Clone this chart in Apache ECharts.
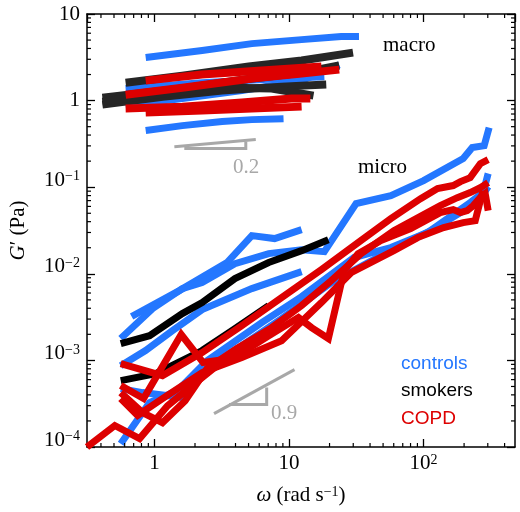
<!DOCTYPE html>
<html><head><meta charset="utf-8">
<script src="https://cdn.jsdelivr.net/npm/echarts@6/dist/echarts.min.js"></script>
<style>html,body{margin:0;padding:0;background:#fff}#c{width:520px;height:512px}</style>
</head><body><div id="c"></div>
<script>
// ---- data: [omega (rad/s), G' (Pa)] ----
const macroBlue1 = [[0.86,3.14],[2.26,3.78],[5.29,4.55],[12.4,5.06],[24.4,5.48],[33.1,5.5]];
const macroBlue2 = [[0.86,0.451],[1.61,0.514],[3.18,0.572],[5.29,0.603],[9.1,0.619]];
const macroBlue3 = [[0.61,1.38],[2.26,1.61],[8.8,1.80],[18.3,1.89]];
const macroBlue4 = [[0.61,0.876],[1.61,1.06],[4.46,1.31],[12.4,1.70],[23.6,2.6]];
const macroBlack1 = [[0.61,1.61],[1.61,1.94],[5.02,2.47],[12.4,2.90],[29.9,3.58]];
const macroBlack2 = [[0.41,1.08],[1.61,1.38],[5.29,1.80],[12.4,2.10],[23.6,2.54]];
const macroBlack3 = [[0.41,0.899],[1.15,1.11],[3.18,1.31],[8.8,1.45],[18.9,1.53]];
const macroBlack4 = [[0.41,0.974],[1.15,1.21],[3.76,1.41],[7.43,1.38],[15.2,1.14]];
const macroRed1 = [[0.86,1.70],[2.26,2.0],[6.27,2.22],[17.4,2.47]];
const macroRed2 = [[0.61,1.17],[1.61,1.41],[5.29,1.80],[12.4,2.05],[23.6,2.28]];
const macroRed3 = [[0.61,0.809],[1.61,0.852],[4.46,0.948],[10.4,1.055],[14.4,1.055]];
const macroRed4 = [[0.86,0.727],[2.26,0.767],[5.29,0.809],[12.4,0.852]];

const microBlue1 = [[0.676,0.00321],[1.53,0.0064],[3.46,0.0135],[5.29,0.0276],[7.81,0.0255],[12.4,0.0324]];
const microBlue2 = [[0.561,0.00179],[0.966,0.00396],[1.61,0.00675],[2.26,0.00791],[3.96,0.0131],[7.06,0.0171],[12.4,0.019],[18.3,0.018],[31.5,0.0647],[57.1,0.080],[100,0.119],[197,0.214],[230,0.287],[282,0.302],[307,0.488]];
const microBlue3 = [[0.561,0.00087],[0.858,0.0013],[1.36,0.00221],[2.26,0.00386],[5.29,0.00675],[12.4,0.0106]];
const microBlue4 = [[0.561,0.000109],[0.919,0.000326],[1.48,0.000448],[2.46,0.000995],[6.27,0.00273],[12.4,0.00545],[30.4,0.0154],[57.1,0.0201],[107,0.0299],[222,0.0664],[277,0.0866],[302,0.144]];
const microBlue5 = [[0.561,0.000472],[0.815,0.000425],[1.61,0.000372],[2.55,0.00087],[4.46,0.00148],[8.8,0.00304],[20.6,0.00791],[48.2,0.0162],[113,0.0315],[188,0.0509],[264,0.0738],[302,0.1016]];
const microBlack1 = [[0.561,0.00156],[0.919,0.00193],[1.61,0.00347],[2.26,0.00465],[3.96,0.00881],[7.06,0.0135],[12.4,0.0185],[19.6,0.0248]];
const microBlack2 = [[0.561,0.000584],[1.02,0.000704],[2.26,0.0013],[3.96,0.00233],[7.06,0.0043]];
const microRed1 = [[0.315,0.0001],[0.507,0.000177],[0.775,0.000125],[1.25,0.0003],[1.91,0.000512],[2.92,0.00087],[4.46,0.00123],[7.06,0.00193],[11.75,0.00312],[14.7,0.00239],[19.6,0.00179],[25.7,0.0109],[32.6,0.0171],[48.2,0.0242],[80.2,0.0333],[133,0.0509],[166,0.0551],[188,0.0509],[211,0.0537],[234,0.0613],[264,0.0758],[287,0.0843],[302,0.0537]];
const microRed2 = [[0.561,0.000512],[0.83,0.000362],[1.58,0.00199],[2.30,0.000944],[3.76,0.00105],[5.75,0.00169],[7.43,0.00209]];
const microRed3 = [[0.561,0.000918],[1.146,0.000667],[2.26,0.00123],[4.46,0.00252],[8.8,0.00531],[17.4,0.0112],[32.6,0.0229],[57.1,0.0434],[95,0.0738],[127,0.0964],[166,0.1045],[188,0.116],[222,0.129],[264,0.187],[302,0.208]];
const microRed4 = [[0.561,0.000425],[0.815,0.000249],[1.146,0.000191],[1.69,0.000343],[2.46,0.000804],[4.10,0.00137],[7.43,0.00239],[12.4,0.0043],[20.6,0.00834],[34.3,0.0171],[60.1,0.0315],[133,0.0613],[178,0.0758],[222,0.0866],[264,0.0989],[302,0.113]];
const microRed5 = [[0.561,0.000362],[0.749,0.000231],[1.146,0.000362],[2.26,0.000723],[4.46,0.00108],[8.8,0.00169],[17.4,0.00465],[28.9,0.0103],[60.1,0.0185],[90.3,0.0262],[141,0.0342],[197,0.039],[242,0.0411],[264,0.070],[277,0.0914]];

// slope guides
const slope02Hyp = [[1.405,0.294],[5.66,0.355]];
const slope02Legs = [[1.665,0.279],[4.77,0.279],[4.77,0.336]];
const slope09Hyp = [[2.77,0.000243],[10.98,0.000783]];
const slope09Legs = [[3.58,0.000309],[6.82,0.000309],[6.82,0.000485]];

// ticks
const xMinorTicks = [0.4,0.5,0.6,0.7,0.8,0.9,2,3,4,5,6,7,8,9,20,30,40,50,60,70,80,90,200,300,400];
const yMinorTicks = [0.0002,0.0003,0.0004,0.0005,0.0006,0.0007,0.0008,0.0009,
  0.002,0.003,0.004,0.005,0.006,0.007,0.008,0.009,
  0.02,0.03,0.04,0.05,0.06,0.07,0.08,0.09,
  0.2,0.3,0.4,0.5,0.6,0.7,0.8,0.9,
  2,3,4,5,6,7,8,9];
const xRange = [0.315, 478];
const yRange = [0.0001, 10];

const SERIF = '"Liberation Serif","Times New Roman",serif';
const SANS = '"Liberation Sans",Arial,sans-serif';
const BLUE = '#2477ff', DARK = '#262626', BLACK = '#000000', RED = '#dd0000', GRAY = '#a8a8a8';

function isPow10(v){ const l = Math.log10(v); return Math.abs(l - Math.round(l)) < 1e-6; }
function expLabel(v){
  if (!isPow10(v)) return '';
  const e = Math.round(Math.log10(v));
  if (e === 0) return '{b|1}';
  if (e === 1) return '{b|10}';
  return '{e|10}{s|' + (e < 0 ? '\u2212' + (-e) : e) + '}';
}

function ln(data, color, width, z){
  return {type:'line', data, symbol:'none', showSymbol:false, silent:true, z,
    lineStyle:{color, width, cap:'butt', join:'miter'}, itemStyle:{color}, emphasis:{disabled:true}};
}

function tickSeries(vals, isX){
  return {type:'custom', coordinateSystem:'cartesian2d', silent:true, clip:false, z:20,
    data: vals.map(v => isX ? [v, 1] : [1, v]),
    renderItem: function(params, api){
      const p = api.coord([api.value(0), api.value(1)]);
      const cs = params.coordSys;
      const st = {stroke:'#000', lineWidth:1.2};
      const L = 4;
      if (isX) {
        return {type:'group', children:[
          {type:'line', shape:{x1:p[0], y1:cs.y+cs.height, x2:p[0], y2:cs.y+cs.height-L}, style:st},
          {type:'line', shape:{x1:p[0], y1:cs.y, x2:p[0], y2:cs.y+L}, style:st}
        ]};
      }
      return {type:'group', children:[
        {type:'line', shape:{x1:cs.x, y1:p[1], x2:cs.x+L, y2:p[1]}, style:st},
        {type:'line', shape:{x1:cs.x+cs.width, y1:p[1], x2:cs.x+cs.width-L, y2:p[1]}, style:st}
      ]};
    }};
}

const axisLineStyle = {show:true, lineStyle:{color:'#000', width:1.5}};
const majorTick = {show:true, inside:true, length:8, lineStyle:{color:'#000', width:1.3}};

const chart = echarts.init(document.getElementById('c'), null, {renderer:'canvas'});
chart.setOption({
  animation:false,
  backgroundColor:'#fff',
  grid:{left:84, right:5, top:14, bottom:65, containLabel:false},
  xAxis:[
    {type:'log', logBase:10, min:xRange[0], max:xRange[1], position:'bottom',
     axisLine:axisLineStyle, axisTick:majorTick, splitLine:{show:false}, minorTick:{show:false},
     axisLabel:{show:true, margin:6, showMinLabel:false, showMaxLabel:false, formatter:expLabel,
       rich:{b:{fontFamily:SERIF, fontSize:21, color:'#000', verticalAlign:'top'},
             e:{fontFamily:SERIF, fontSize:21, color:'#000', verticalAlign:'top'},
             s:{fontFamily:SERIF, fontSize:14, color:'#000', verticalAlign:'top'}}},
     name:'{i|\u03c9} (rad s{s|\u22121})', nameLocation:'middle', nameGap:38,
     nameTextStyle:{fontFamily:SERIF, fontSize:21, color:'#000',
       rich:{i:{fontFamily:SERIF, fontSize:21, fontStyle:'italic', color:'#000', verticalAlign:'top'},
             s:{fontFamily:SERIF, fontSize:14, color:'#000', verticalAlign:'top'}}}},
    {type:'log', logBase:10, min:xRange[0], max:xRange[1], position:'top',
     axisLine:axisLineStyle, axisTick:majorTick, axisLabel:{show:false}, splitLine:{show:false}}
  ],
  yAxis:[
    {type:'log', logBase:10, min:yRange[0], max:yRange[1], position:'left',
     axisLine:axisLineStyle, axisTick:majorTick, splitLine:{show:false}, minorTick:{show:false},
     axisLabel:{show:true, margin:7, formatter:expLabel,
       rich:{b:{fontFamily:SERIF, fontSize:21, color:'#000'},
             e:{fontFamily:SERIF, fontSize:21, color:'#000', verticalAlign:'top', padding:[0,0,14,0]},
             s:{fontFamily:SERIF, fontSize:14, color:'#000', verticalAlign:'top'}}},
     name:'{i|G}\u2032 (Pa)', nameLocation:'middle', nameGap:58, nameRotate:90,
     nameTextStyle:{fontFamily:SERIF, fontSize:21, color:'#000',
       rich:{i:{fontFamily:SERIF, fontSize:21, fontStyle:'italic', color:'#000'}}}},
    {type:'log', logBase:10, min:yRange[0], max:yRange[1], position:'right',
     axisLine:axisLineStyle, axisTick:majorTick, axisLabel:{show:false}, splitLine:{show:false}}
  ],
  series:[
    ln(macroBlue1, BLUE, 7, 2), ln(macroBlue2, BLUE, 7, 2), ln(macroBlue3, BLUE, 7, 2), ln(macroBlue4, BLUE, 7, 2),
    ln(macroBlack1, DARK, 8, 3), ln(macroBlack2, DARK, 8, 3), ln(macroBlack3, DARK, 8, 3), ln(macroBlack4, DARK, 8, 3),
    ln(macroRed1, RED, 8, 4), ln(macroRed2, RED, 8, 4), ln(macroRed3, RED, 8, 4), ln(macroRed4, RED, 8, 4),
    ln(microBlue1, BLUE, 7, 2), ln(microBlue2, BLUE, 7, 2), ln(microBlue3, BLUE, 7, 2), ln(microBlue4, BLUE, 7, 2), ln(microBlue5, BLUE, 7, 2),
    ln(microBlack1, BLACK, 7, 3), ln(microBlack2, BLACK, 7, 3),
    ln(microRed1, RED, 7, 4), ln(microRed2, RED, 7, 4), ln(microRed3, RED, 7, 4), ln(microRed4, RED, 7, 4), ln(microRed5, RED, 7, 4),
    ln(slope02Hyp, GRAY, 3, 5), ln(slope02Legs, GRAY, 3, 5),
    ln(slope09Hyp, GRAY, 3, 5), ln(slope09Legs, GRAY, 3, 5),
    tickSeries(xMinorTicks, true), tickSeries(yMinorTicks, false)
  ],
  graphic:[
    {type:'text', x:383, y:45, style:{text:'macro', font:'21px ' + SERIF, fill:'#000', align:'left', verticalAlign:'middle'}},
    {type:'text', x:358, y:167, style:{text:'micro', font:'21px ' + SERIF, fill:'#000', align:'left', verticalAlign:'middle'}},
    {type:'text', x:233, y:167, style:{text:'0.2', font:'21px ' + SERIF, fill:GRAY, align:'left', verticalAlign:'middle'}},
    {type:'text', x:271, y:413, style:{text:'0.9', font:'21px ' + SERIF, fill:GRAY, align:'left', verticalAlign:'middle'}},
    {type:'text', x:401, y:364, style:{text:'controls', font:'19px ' + SANS, fill:BLUE, align:'left', verticalAlign:'middle'}},
    {type:'text', x:401, y:391, style:{text:'smokers', font:'19px ' + SANS, fill:'#000', align:'left', verticalAlign:'middle'}},
    {type:'text', x:401, y:419, style:{text:'COPD', font:'19px ' + SANS, fill:RED, align:'left', verticalAlign:'middle'}}
  ]
});
</script>
</body></html>
